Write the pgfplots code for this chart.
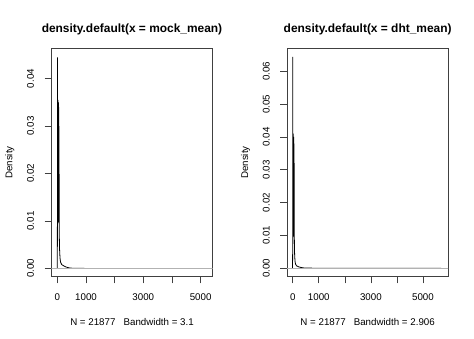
\documentclass[border=0pt]{standalone}
\usepackage{pgfplots}
\pgfplotsset{compat=1.18}
\usepackage{fontspec}
\setmainfont{Liberation Sans}
\begin{document}
\pgfplotsset{
  rstyle/.style={
    scale only axis, anchor=south west,
    width=162pt, height=229pt,
    axis line style={black!75, line width=0.6pt},
    tick style={black!75, line width=0.6pt},
    tick align=outside, tick pos=left, major tick length=7pt,
    font=\fontsize{9.8}{11}\selectfont,
    /pgf/number format/assume math mode=true,
    xtick={0,1000,2000,3000,4000,5000},
    xticklabels={0,1000,,3000,,5000},
    scaled x ticks=false, scaled y ticks=false,
    yticklabel style={rotate=90, anchor=center, yshift=14pt, /pgf/number format/fixed, /pgf/number format/fixed zerofill, /pgf/number format/precision=2},
    xticklabel style={anchor=center, yshift=-14pt},
    title style={at={(0.5,1)}, anchor=center, yshift=13pt, font=\fontsize{12}{14}\selectfont\bfseries},
    xlabel style={at={(0.5,0)}, anchor=center, yshift=-46pt},
    ylabel style={at={(axis description cs:-0.258,0.5)}, anchor=center},
    ylabel={Density},
    clip=true,
  }
}
\begin{tikzpicture}
\useasboundingbox (0,0) rectangle (474pt,340pt);
\begin{axis}[rstyle, at={(49pt,62pt)},
  xmin=-208, xmax=5417, ymin=-0.00168, ymax=0.0463,
  ytick={0,0.01,0.02,0.03,0.04},
  title={density.default(x = mock\_mean)},
  xlabel={N = 21877\ \ \ Bandwidth = 3.1}]
\addplot[black, line width=0.8pt] coordinates {
(-9,0) (-6,0.001) (-3,0.004) (0,0.012) (2,0.0445) (4,0.02) (6,0.0355) (10,0.011)
(14,0.0355) (18,0.0105) (22,0.0355) (26,0.0100) (30,0.035) (34,0.0100) (38,0.035)
(42,0.0098) (46,0.034) (50,0.0096) (54,0.030) (56,0.0095) (58,0.022) (60,0.0093)
(62,0.009) (66,0.0065) (75,0.0040)
(90,0.0022) (110,0.0013) (150,0.0008) (230,0.0005) (300,0.0003) (400,0.00012)
(520,0.00004) (700,0.00001) (1000,0) (5200,0)};
\addplot[gray!60, line width=0.5pt] coordinates {(-1000,0) (7000,0)};
\end{axis}
\begin{axis}[rstyle, at={(286pt,62pt)},
  xmin=-216, xmax=5967, ymin=-0.0025, ymax=0.0669,
  ytick={0,0.01,0.02,0.03,0.04,0.05,0.06},
  title={density.default(x = dht\_mean)},
  xlabel={N = 21877\ \ \ Bandwidth = 2.906}]
\addplot[black, line width=0.8pt] coordinates {
(-9,0) (-6,0.001) (-3,0.004) (0,0.012) (2,0.0644) (4,0.02) (6,0.041) (10,0.011)
(14,0.041) (18,0.0105) (22,0.041) (26,0.0100) (30,0.040) (34,0.0100) (38,0.040)
(42,0.0097) (46,0.038) (50,0.0095) (54,0.032) (56,0.0094) (58,0.024) (60,0.0092)
(62,0.009) (66,0.0062) (75,0.0038)
(90,0.0020) (110,0.0012) (150,0.0007) (230,0.0004) (300,0.00025) (400,0.0001)
(460,0.00004) (700,0.00001) (1000,0) (5700,0)};
\addplot[gray!60, line width=0.5pt] coordinates {(-1000,0) (7000,0)};
\end{axis}
\end{tikzpicture}
\end{document}
